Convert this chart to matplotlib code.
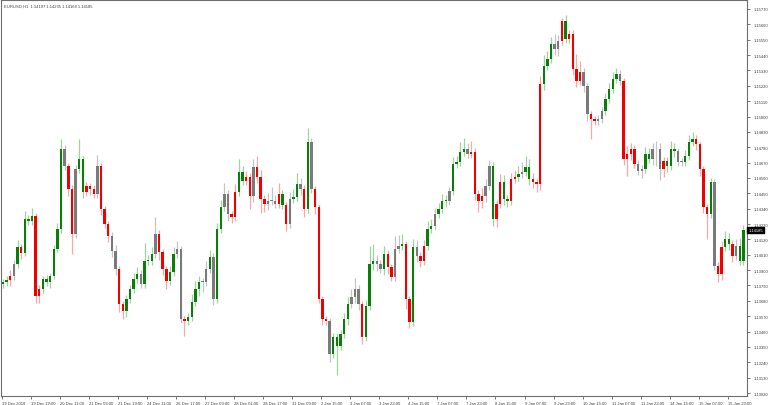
import matplotlib.pyplot as plt

plt.rcParams['font.family'] = ['Liberation Sans Narrow', 'Liberation Sans', 'DejaVu Sans']

# EURUSD H1 (aggregated to 2h candles)
open0 = 1.13800
closes = [
    1.13815, 1.13829, 1.13858, 1.13944, 1.14066, 1.14023, 1.14266, 1.14252, 1.14288, 1.13715,
    1.13765, 1.13836, 1.13815, 1.13858, 1.14051, 1.14195, 1.14767, 1.14646, 1.14481, 1.14159,
    1.14624, 1.14696, 1.14460, 1.14502, 1.14481, 1.14445, 1.14646, 1.14338, 1.14230, 1.14144,
    1.14037, 1.13908, 1.13657, 1.13607, 1.13693, 1.13765, 1.13836, 1.13872, 1.13801, 1.13965,
    1.13965, 1.14016, 1.14159, 1.14030, 1.13908, 1.13822, 1.13887, 1.14016, 1.14051, 1.13550,
    1.13536, 1.13564, 1.13672, 1.13765, 1.13815, 1.13815, 1.13908, 1.13994, 1.13693, 1.14195,
    1.14352, 1.14445, 1.14302, 1.14281, 1.14460, 1.14603, 1.14538, 1.14567, 1.14431, 1.14639,
    1.14567, 1.14409, 1.14374, 1.14395, 1.14395, 1.14374, 1.14445, 1.14366, 1.14230, 1.14409,
    1.14424, 1.14517, 1.14481, 1.14338, 1.14818, 1.14481, 1.14352, 1.13693, 1.13550, 1.13536,
    1.13299, 1.13421, 1.13357, 1.13443, 1.13550, 1.13657, 1.13708, 1.13765, 1.13657, 1.13421,
    1.13643, 1.13944, 1.13965, 1.13944, 1.13908, 1.14016, 1.13922, 1.13851, 1.14051, 1.14073,
    1.14087, 1.13693, 1.13529, 1.14066, 1.14001, 1.13965, 1.14073, 1.14195, 1.14216, 1.14302,
    1.14338, 1.14395, 1.14395, 1.14467, 1.14660, 1.14674, 1.14746, 1.14767, 1.14732, 1.14746,
    1.14445, 1.14395, 1.14431, 1.14502, 1.14646, 1.14266, 1.14374, 1.14531, 1.14409, 1.14395,
    1.14553, 1.14567, 1.14588, 1.14603, 1.14639, 1.14553, 1.14531, 1.14517, 1.15233, 1.15362,
    1.15412, 1.15519, 1.15484, 1.15541, 1.15684, 1.15555, 1.15591, 1.15340, 1.15254, 1.15319,
    1.15219, 1.15018, 1.14982, 1.14968, 1.14982, 1.15040, 1.15126, 1.15197, 1.15269, 1.15305,
    1.15254, 1.14696, 1.14732, 1.14767, 1.14660, 1.14610, 1.14624, 1.14732, 1.14696, 1.14767,
    1.14767, 1.14624, 1.14682, 1.14646, 1.14767, 1.14753, 1.14674, 1.14674, 1.14717, 1.14818,
    1.14839, 1.14803, 1.14624, 1.14352, 1.14302, 1.14531, 1.13930, 1.13872, 1.14066, 1.14123,
    1.14087, 1.14001, 1.14073, 1.13965, 1.14185,
]
# wick lengths above / below the body, in pips
wick_up = [
    2, 3, 4, 3, 5, 2, 6, 3, 6, 2,
    3, 2, 3, 2, 3, 4, 7, 3, 2, 3,
    3, 14, 2, 3, 2, 3, 8, 2, 2, 2,
    3, 4, 2, 2, 3, 3, 4, 5, 3, 13,
    4, 5, 12, 3, 2, 2, 4, 5, 6, 2,
    2, 3, 6, 6, 4, 3, 6, 5, 3, 4,
    5, 8, 3, 2, 6, 9, 4, 4, 3, 6,
    8, 5, 3, 6, 10, 4, 8, 3, 2, 5,
    6, 8, 4, 3, 10, 3, 2, 2, 2, 2,
    2, 3, 3, 3, 4, 5, 6, 8, 3, 2,
    4, 13, 12, 4, 3, 6, 3, 2, 9, 8,
    7, 2, 2, 6, 5, 3, 4, 6, 5, 4,
    4, 5, 4, 3, 5, 4, 7, 8, 4, 8,
    3, 3, 6, 5, 4, 3, 3, 6, 5, 3,
    4, 5, 6, 7, 8, 6, 4, 3, 6, 8,
    6, 5, 7, 4, 2, 4, 3, 3, 11, 8,
    3, 2, 2, 2, 3, 3, 4, 4, 5, 4,
    3, 2, 6, 4, 3, 3, 3, 5, 4, 4,
    6, 4, 3, 3, 6, 4, 2, 3, 4, 5,
    5, 3, 2, 2, 2, 3, 2, 3, 4, 6,
    4, 3, 5, 6, 4,
]
wick_down = [
    3, 3, 4, 3, 3, 4, 2, 3, 3, 5,
    5, 3, 3, 4, 2, 2, 3, 3, 5, 14,
    3, 3, 4, 3, 4, 3, 3, 4, 3, 4,
    4, 4, 6, 6, 4, 3, 3, 3, 3, 3,
    3, 3, 3, 6, 4, 6, 3, 3, 3, 3,
    11, 3, 3, 3, 5, 7, 3, 3, 4, 3,
    3, 3, 5, 4, 3, 3, 3, 3, 9, 4,
    4, 10, 6, 4, 3, 3, 3, 3, 5, 3,
    3, 3, 4, 6, 3, 3, 5, 3, 4, 3,
    6, 3, 21, 3, 3, 4, 3, 4, 4, 5,
    3, 3, 4, 5, 3, 4, 5, 3, 3, 3,
    3, 7, 4, 3, 4, 4, 3, 3, 3, 3,
    3, 3, 4, 3, 3, 3, 3, 3, 3, 3,
    4, 8, 5, 4, 3, 5, 6, 3, 4, 4,
    3, 3, 3, 3, 3, 4, 4, 6, 4, 4,
    3, 3, 4, 5, 3, 3, 3, 4, 4, 3,
    4, 5, 14, 3, 3, 3, 3, 3, 3, 3,
    3, 4, 12, 4, 3, 3, 5, 3, 3, 4,
    12, 8, 6, 4, 3, 4, 3, 3, 3, 3,
    3, 4, 5, 4, 18, 3, 3, 6, 4, 3,
    4, 4, 3, 3, 3,
]
# candle colouring: g = up trend, r = down trend, n = neutral
trend = (
    "ggrngrgggr" "rggggggnrr" "nggrrrnrrr" "nnrrggggng"
    "ggnrrrggnn" "rggggnngng" "gnnrrggrrn" "rrrnnnrgrn"
    "ggnrgnrrrr" "ngggggnnnr" "gggnngrrnn" "grrgnrrggn"
    "gggnggggnr" "rrrnngrrgg" "rrgnggrrrg" "ggnnrgrrrr"
    "nnrrnngggg" "nrrrrnnggn" "nnrgggnngg" "grrrrgnrrg"
    "grngg"
)

xlabels = ['19 Dec 2018', '19 Dec 19:00', '20 Dec 11:00', '21 Dec 03:00', '21 Dec 19:00',
           '24 Dec 11:00', '26 Dec 17:00', '27 Dec 09:00', '28 Dec 01:00', '28 Dec 17:00',
           '31 Dec 09:00', '2 Jan 15:00', '3 Jan 07:00', '3 Jan 23:00', '4 Jan 15:00',
           '7 Jan 07:00', '7 Jan 23:00', '8 Jan 15:00', '9 Jan 07:00', '9 Jan 23:00',
           '10 Jan 15:00', '11 Jan 07:00', '11 Jan 23:00', '14 Jan 15:00', '15 Jan 07:00',
           '15 Jan 23:00']
yticks = [1.13020, 1.13130, 1.13240, 1.13350, 1.13460, 1.13570, 1.13680, 1.13790, 1.13900,
          1.14010, 1.14120, 1.14230, 1.14340, 1.14450, 1.14560, 1.14670, 1.14780, 1.14890,
          1.15000, 1.15110, 1.15220, 1.15330, 1.15440, 1.15550, 1.15660, 1.15770]
last_price = 1.14185
header = 'EURUSD,H1  1.14197 1.14235 1.14168 1.14185'

body_col = {'g': '#0b7d0b', 'r': '#f00000', 'n': '#7a7a7a'}
wick_col = {'g': '#9fd49f', 'r': '#f7a8a8', 'n': '#c4c4c4'}

fig = plt.figure(figsize=(7.68, 4.06), dpi=100)
ax = fig.add_axes([1 / 768, 9 / 406, 746 / 768, 396 / 406])

opens = [open0] + closes[:-1]
for i, (o, c) in enumerate(zip(opens, closes)):
    top = max(o, c)
    bot = min(o, c)
    hi = top + wick_up[i] * 0.0001
    lo = bot - wick_down[i] * 0.0001
    ax.vlines(i, lo, hi, color=wick_col[trend[i]], lw=0.9, zorder=1)
    ax.bar(i, max(top - bot, 0.00004), bottom=bot, width=0.66,
           color=body_col[trend[i]], zorder=2, linewidth=0)

ax.set_xlim(-0.55, 205.0)
ax.set_ylim(1.129987, 1.158344)

ax.set_xticks([8 * k - 0.3 for k in range(len(xlabels))])
ax.set_xticklabels(xlabels, ha='left', fontsize=3.0, color='#404040')
ax.tick_params(axis='x', length=2.5, width=0.5, pad=1.2, colors='#404040')

ax.yaxis.tick_right()
ax.set_yticks(yticks)
ax.set_yticklabels(['%.5f' % v for v in yticks], fontsize=3.0, color='#404040')
ax.tick_params(axis='y', length=2.5, width=0.5, pad=2, colors='#404040')

for s in ax.spines.values():
    s.set_color('#6e6e6e')
    s.set_linewidth(0.8)

ax.text(1.002, last_price, '%.5f' % last_price, transform=ax.get_yaxis_transform(),
        fontsize=3.0, color='white', va='center', ha='left',
        bbox=dict(boxstyle='square,pad=0.25', fc='black', ec='black'))
ax.text(0.004, 0.992, header, transform=ax.transAxes, fontsize=3.0,
        color='#404040', va='top', ha='left')

fig.savefig('out.png', dpi=100, facecolor='white')
